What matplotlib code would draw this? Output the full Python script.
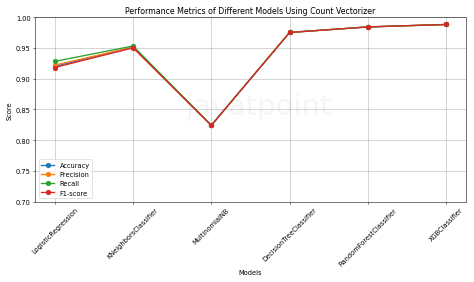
import numpy as np
import matplotlib
matplotlib.use("Agg")
import matplotlib.pyplot as plt

models = ["LogisticRegression", "KNeighborsClassifier", "MultinomialNB",
          "DecisionTreeClassifier", "RandomForestClassifier", "XGBClassifier"]
accuracy = [0.920, 0.951, 0.824, 0.975, 0.984, 0.988]
precision = [0.922, 0.951, 0.824, 0.975, 0.984, 0.988]
recall = [0.928, 0.953, 0.824, 0.975, 0.984, 0.988]
f1 = [0.918, 0.950, 0.824, 0.975, 0.984, 0.988]

plt.figure(figsize=(10, 5.97), dpi=47.4)
for vals, name in [(accuracy, "Accuracy"), (precision, "Precision"),
                   (recall, "Recall"), (f1, "F1-score")]:
    plt.plot(models, vals, marker="o", label=name, linewidth=2, markersize=7)
plt.title("Performance Metrics of Different Models Using Count Vectorizer")
plt.xlabel("Models")
plt.ylabel("Score")
plt.ylim(0.7, 1.0)
plt.xticks(rotation=45)
plt.legend(loc="lower left")
plt.grid(True)
plt.text(0.52, 0.52, "javatpoint", transform=plt.gca().transAxes, fontsize=44,
         color="#ececec", ha="center", va="center", alpha=0.5, zorder=0)
plt.tight_layout()
plt.savefig("out.png")
